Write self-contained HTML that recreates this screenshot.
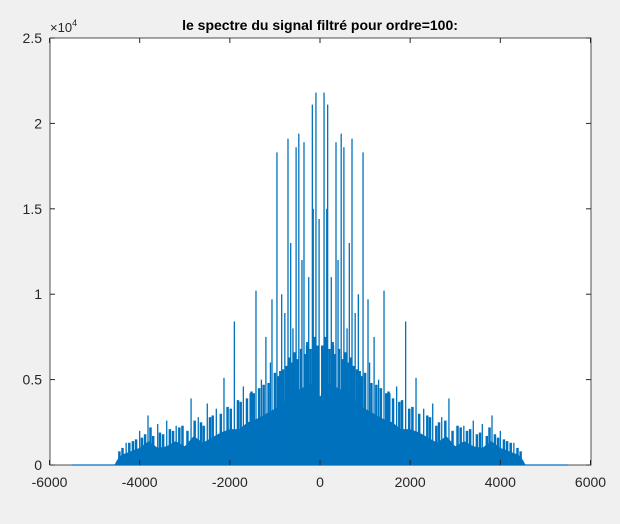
<!DOCTYPE html>
<html><head><meta charset="utf-8"><style>
body{margin:0;background:#f0f0f0;width:620px;height:519px;overflow:hidden;font-family:"Liberation Sans",sans-serif}
</style></head><body>
<svg id="chart" width="620" height="519" xmlns="http://www.w3.org/2000/svg">
<rect x="50" y="38" width="541" height="427" fill="#fff" stroke="#262626" stroke-width="0.8"/>
<text x="320" y="30" text-anchor="middle" font-weight="bold" font-size="14" fill="#000">le spectre du signal filtré pour ordre=100:</text>
<g id="marks"></g>
<g id="axes"></g>
<text x="50" y="32" font-size="13" fill="#262626">×10<tspan font-size="9" dy="-6">4</tspan></text>
</svg>
<script>
const xTicks=[-6000,-4000,-2000,0,2000,4000,6000];
const yTicks=[0,0.5,1,1.5,2,2.5];
const envFreq=[0,200,400,600,800,1000,1200,1400,1600,1800,2000,2200,2400,2600,2800,3000,3200,3400,3600,3800,4000,4200,4400,4500,4560];
const envVal=[4000,4800,4500,4200,3700,3300,3000,2700,2500,2100,2100,1900,1600,1300,1700,1100,1400,1100,1000,1400,1000,800,600,300,0];
const spikeFreq=[90,170,355,470,530,710,955,1065,1420,1900,2130,2860,3190,3815,600,780,250,300,1200,1300,1700,1550,2300,2500,2700,3400,3600,4000,4300,400,650,850,1100,150];
const spikeVal=[21800,21100,18900,19400,18600,19100,18300,9700,10200,8400,5100,3900,2300,2900,8000,8900,11000,7000,7500,5000,4600,4200,3300,3600,2800,2600,2400,2000,1300,12000,13000,10000,6000,15000];
const minorFreq=[50,120,210,280,330,420,500,560,630,690,740,820,880,920,1000,1140,1250,1350,1470,1520,1620,1760,1820,1980,2050,2200,2380,2440,2580,2640,2780,2940,3050,3120,3260,3330,3480,3550,3700,3760,3880,3950,4080,4150,4230,4380,4450];
const minorVal=[7000,7500,6800,7200,6500,6800,6200,6600,6000,6300,5800,5600,5500,5200,5400,4800,4700,4500,4200,4300,3900,3700,3800,3300,3400,3000,2900,2800,2300,2500,2600,2000,2300,2200,2000,2100,1800,1900,1700,2200,1800,1600,1500,1400,1300,1000,800];
const centerFreq=[-20];const centerVal=[14400];
const X=f=>320+f*541/12000;
const Y=v=>465-v*427/25000;
const NS='http://www.w3.org/2000/svg';
const marks=document.getElementById('marks');const axes=document.getElementById('axes');
const C='#0072BD';
function mk(tag,at,parent){const e=document.createElementNS(NS,tag);for(const k in at)e.setAttribute(k,at[k]);parent.appendChild(e);return e;}
let bl=mk('line',{x1:X(-5500),x2:X(5500),y1:Y(0),y2:Y(0),stroke:C,'stroke-width':1.2},marks);


let pts=[];
for(let i=envFreq.length-1;i>=0;i--)pts.push(X(-envFreq[i])+','+Y(envVal[i]));
for(let i=0;i<envFreq.length;i++)pts.push(X(envFreq[i])+','+Y(envVal[i]));
pts.push(X(4560)+','+Y(0));pts.unshift(X(-4560)+','+Y(0));
let env=mk('polygon',{points:pts.join(' '),fill:C},marks);


function spike(f,v,w){let l=mk('line',{x1:X(f),x2:X(f),y1:Y(0),y2:Y(v),stroke:C,'stroke-width':w},marks);

}
for(let i=0;i<spikeFreq.length;i++){spike(spikeFreq[i],spikeVal[i],1.3);spike(-spikeFreq[i],spikeVal[i],1.3);}
for(let i=0;i<minorFreq.length;i++){spike(minorFreq[i],minorVal[i],2.5);spike(-minorFreq[i],minorVal[i],2.5);}
for(let i=0;i<centerFreq.length;i++)spike(centerFreq[i],centerVal[i],1.3);
xTicks.forEach(t=>{mk('line',{x1:X(t),x2:X(t),y1:465,y2:460,stroke:'#262626'},axes);mk('line',{x1:X(t),x2:X(t),y1:38,y2:43,stroke:'#262626'},axes);
let tx=mk('text',{x:X(t),y:487,'text-anchor':'middle','font-size':14,fill:'#262626'},axes);tx.textContent=t;

});
yTicks.forEach(t=>{const y=Y(t*10000);mk('line',{x1:50,x2:55,y1:y,y2:y,stroke:'#262626'},axes);mk('line',{x1:591,x2:586,y1:y,y2:y,stroke:'#262626'},axes);
let tx=mk('text',{x:42,y:y+5,'text-anchor':'end','font-size':14,fill:'#262626'},axes);tx.textContent=t;

});
</script>
</body></html>
